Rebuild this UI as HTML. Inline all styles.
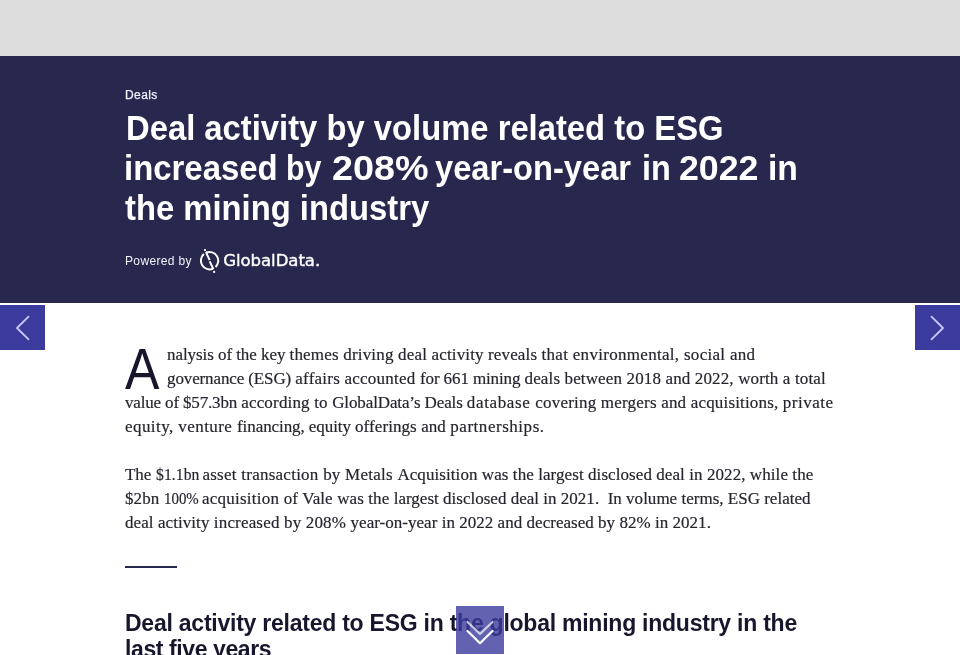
<!DOCTYPE html>
<html lang="en">
<head>
<meta charset="utf-8">
<title>Deal activity by volume related to ESG increased by 208% year-on-year in 2022 in the mining industry</title>
<style>
html,body{margin:0;padding:0;}
body{width:960px;height:655px;overflow:hidden;background:#fff;position:relative;font-family:"Liberation Sans",sans-serif;}
.topbar{position:absolute;left:0;top:0;width:960px;height:56px;background:#dcdcdc;}
.hero{position:absolute;left:0;top:56px;width:960px;height:247px;background:#28274d;color:#fff;}
.cat{position:absolute;left:125px;top:32px;font-size:12px;line-height:14px;font-weight:normal;color:#f0f0fa;white-space:nowrap;letter-spacing:.4px;-webkit-text-stroke:.25px #f0f0fa;}
h1{position:absolute;left:125px;top:52px;margin:0;font-size:35px;line-height:40px;font-weight:bold;color:#fff;white-space:nowrap;}
h1 span{display:block;}
.powered{position:absolute;left:125px;top:197.6px;font-size:12px;line-height:14px;color:#f2f2fa;letter-spacing:.35px;white-space:nowrap;}
.gdlogo{position:absolute;left:195px;top:184px;}
.nav{position:absolute;top:305px;width:45px;height:45px;background:#3b3b9e;}
.nav.l{left:0;} .nav.r{left:915px;}
.nav svg{display:block;}
.body{position:absolute;left:125px;top:342.6px;width:720px;color:#25242f;font-family:"Liberation Serif",serif;font-size:17px;line-height:24px;-webkit-text-stroke:.18px #25242f;}
.body p{margin:0;}
.body .ln{display:block;white-space:nowrap;}
.body .i{padding-left:42px;}
.p2{margin-top:24.8px !important;}
.a1{letter-spacing:.148px}.a2{letter-spacing:.072px}.a3{letter-spacing:.116px}.a4{letter-spacing:.23px}
.b1{letter-spacing:.07px}.b2{letter-spacing:.01px}.b3{letter-spacing:.08px}
.t1{letter-spacing:0;margin-left:.6px;transform:scaleX(.9365);transform-origin:0 0;}.t2{letter-spacing:0;position:relative;height:40px;}
.t2 .w{position:absolute;top:0;font-weight:bold;transform-origin:0 0;}
/*W*/
.t2 .w0{left:-0.80px;transform:scaleX(0.9403)}
.t2 .w1{left:160.80px;transform:scaleX(0.8689)}
.t2 .w2{left:206.80px;transform:scaleX(1.0795)}
.t2 .w3{left:309.60px;transform:scaleX(0.9330)}
.t2 .w4{left:516.50px;transform:scaleX(0.9259)}
.t2 .w5{left:554.40px;transform:scaleX(1.0201)}
.t2 .w6{left:643.00px;transform:scaleX(0.9636)}
/*EW*/.t3{letter-spacing:0;transform:scaleX(.9366);transform-origin:0 0;}
.dc{-webkit-text-stroke:0;position:absolute;left:0;top:-1.5px;font-family:"Liberation Sans",sans-serif;font-size:57px;line-height:57px;color:#17162d;transform:scaleX(.905);transform-origin:0 0;}
.rule{position:absolute;left:125px;top:566px;width:52px;height:2px;background:#28274d;}
h2{position:absolute;left:125px;top:610px;margin:0;font-size:23px;letter-spacing:-.24px;line-height:26px;font-weight:bold;color:#17162d;white-space:nowrap;font-family:"Liberation Sans",sans-serif;}
h2 span{display:block;}
.down{position:absolute;left:456px;top:606px;width:48px;height:48px;background:rgba(59,59,158,.8);}
</style>
</head>
<body>
<div class="topbar"></div>
<div class="hero">
  <div class="cat">Deals</div>
  <h1><span class="t1">Deal activity by volume related to ESG</span><span class="t2"><b class="w w0">increased</b> <b class="w w1">by</b> <b class="w w2">208%</b> <b class="w w3">year-on-year</b> <b class="w w4">in</b> <b class="w w5">2022</b> <b class="w w6">in</b></span><span class="t3">the mining industry</span></h1>
  <div class="powered">Powered by</div>
  <svg class="gdlogo" width="140" height="40" viewBox="195 240 140 40">
    <g fill="none" stroke="#fff" stroke-width="2" stroke-linecap="butt">
      <path d="M203.9 254.0 A8.8 8.8 0 0 0 212.9 268.8"/>
      <path d="M206.3 252.5 A8.8 8.8 0 0 1 215.6 267.0"/>
      <path d="M205.9 251.9 L209.6 260.2"/>
      <path d="M209.7 261.3 L213.4 269.2"/>
    </g>
    <circle cx="205.0" cy="250.1" r="1.15" fill="#fff"/>
    <circle cx="214.1" cy="271.9" r="1.15" fill="#fff"/>
    <text transform="translate(223.2 265.7) scale(1.09 1)" x="0" y="0" font-family="'DejaVu Sans','Liberation Sans',sans-serif" font-size="15.2" fill="#fff" letter-spacing="-0.05" stroke="#fff" stroke-width="0.35">GlobalData.</text>
  </svg>
</div>
<div class="nav l"><svg width="45" height="45" viewBox="0 0 45 45"><path d="M28.5 11.7 L17 23 L28.5 34.3" fill="none" stroke="#c8c8ff" stroke-width="1.8" stroke-linecap="round" stroke-linejoin="round"/></svg></div>
<div class="nav r"><svg width="45" height="45" viewBox="0 0 45 45"><path d="M16.5 11.7 L28 23 L16.5 34.3" fill="none" stroke="#c8c8ff" stroke-width="1.8" stroke-linecap="round" stroke-linejoin="round"/></svg></div>

<div class="body">
  <p class="p1"><span class="ln i a1"><span class="dc">A</span><span style="letter-spacing:-0.062px">nalysis of the key </span><span style="letter-spacing:0.184px">themes driving deal </span><span style="letter-spacing:0.140px">activity reveals </span><span style="letter-spacing:0.297px">that environmental, social and</span></span><span class="ln i a2"><span style="letter-spacing:-0.119px">governance (ESG) </span><span style="letter-spacing:0.235px">affairs accounted </span><span style="letter-spacing:-0.117px">for 661 mining </span><span style="letter-spacing:0.138px">deals between 2018 and 2022, worth a total</span></span><span class="ln a3"><span style="letter-spacing:-0.163px">value of $57.3bn </span><span style="letter-spacing:0.173px">according to </span><span style="letter-spacing:-0.126px">GlobalData’s </span><span style="letter-spacing:-0.109px">Deals </span><span style="letter-spacing:0.624px">database </span><span style="letter-spacing:0.210px">covering mergers </span><span style="letter-spacing:0.172px">and acquisitions, </span><span style="letter-spacing:0.480px">private</span></span><span class="ln a4"><span style="letter-spacing:0.431px">equity, venture </span><span style="letter-spacing:-0.080px">financing, equity </span><span style="letter-spacing:0.081px">offerings and </span><span style="letter-spacing:0.534px">partnerships.</span></span></p>
  <p class="p2"><span class="ln b1"><span style="letter-spacing:-0.043px">The </span><span style="display:inline-block;transform:scaleX(0.921);transform-origin:0 50%;margin-right:-4.6px">$1.1bn</span> <span style="letter-spacing:0.254px">asset transaction </span><span style="letter-spacing:0.247px">by Metals </span><span style="letter-spacing:0.075px">Acquisition was the largest disclosed deal in 2022, while the</span></span><span class="ln b2"><span style="letter-spacing:0.110px">$2bn </span><span style="display:inline-block;transform:scaleX(0.876);transform-origin:0 50%;margin-right:-5.8px">100%</span> <span style="letter-spacing:0.238px">acquisition </span><span style="letter-spacing:0.108px">of Vale was the </span><span style="letter-spacing:0.012px">largest disclosed deal in 2021.&nbsp; In volume terms, ESG related</span></span><span class="ln b3"><span style="letter-spacing:0.072px">deal activity </span><span style="letter-spacing:0.173px">increased by 208% </span><span style="letter-spacing:0.030px">year-on-year in 2022 and decreased by 82% in 2021.</span></span></p>
</div>
<div class="rule"></div>
<h2><span class="h1l">Deal activity related to ESG in the global mining industry in the</span><span class="h2l" style="letter-spacing:-.4px">last five years</span></h2>
<div class="down"><svg width="48" height="48" viewBox="0 0 48 48"><path d="M11.5 16 L24 28 L36.5 16" fill="none" stroke="#fff" stroke-opacity=".7" stroke-width="2.2" stroke-linecap="round" stroke-linejoin="round"/><path d="M11.5 25 L24 37.3 L36.5 25" fill="none" stroke="#fff" stroke-width="2.2" stroke-linecap="round" stroke-linejoin="round"/></svg></div>
</body>
</html>
